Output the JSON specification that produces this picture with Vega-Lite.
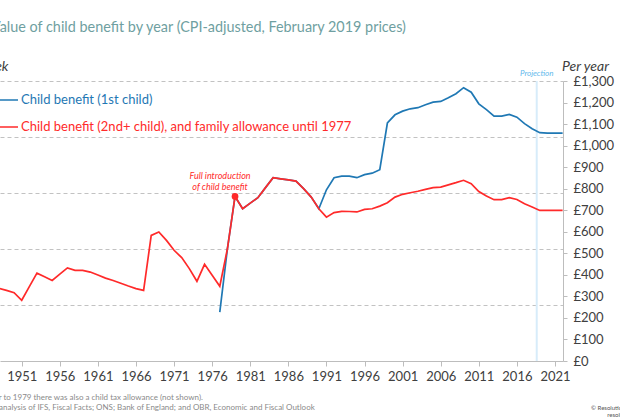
{
  "$schema": "https://vega.github.io/schema/vega-lite/v6.json",
  "width": 563,
  "height": 280,
  "autosize": {"type": "none"},
  "padding": {"left": 0, "top": 81, "right": 57, "bottom": 59},
  "background": "white",
  "config": {
    "font": "Lato",
    "view": {"stroke": null},
    "axis": {"labelFont": "Lato", "titleFont": "Lato"},
    "legend": {"labelFont": "Lato"}
  },
  "title": {
    "text": "Value of child benefit by year (CPI-adjusted, February 2019 prices)",
    "anchor": "start",
    "frame": "group",
    "dx": -9,
    "offset": 24,
    "fontSize": 14.4,
    "fontWeight": "normal",
    "color": "#6f9fa1",
    "font": "Lato"
  },
  "datasets": {
    "benefit": [
      {"year": 1946, "series": "Child benefit (2nd+ child), and family allowance until 1977", "value": 372},
      {"year": 1947, "series": "Child benefit (2nd+ child), and family allowance until 1977", "value": 352},
      {"year": 1948, "series": "Child benefit (2nd+ child), and family allowance until 1977", "value": 338},
      {"year": 1949, "series": "Child benefit (2nd+ child), and family allowance until 1977", "value": 328},
      {"year": 1950, "series": "Child benefit (2nd+ child), and family allowance until 1977", "value": 317},
      {"year": 1951, "series": "Child benefit (2nd+ child), and family allowance until 1977", "value": 282},
      {"year": 1952, "series": "Child benefit (2nd+ child), and family allowance until 1977", "value": 345},
      {"year": 1953, "series": "Child benefit (2nd+ child), and family allowance until 1977", "value": 408},
      {"year": 1954, "series": "Child benefit (2nd+ child), and family allowance until 1977", "value": 391},
      {"year": 1955, "series": "Child benefit (2nd+ child), and family allowance until 1977", "value": 374},
      {"year": 1956, "series": "Child benefit (2nd+ child), and family allowance until 1977", "value": 403},
      {"year": 1957, "series": "Child benefit (2nd+ child), and family allowance until 1977", "value": 432},
      {"year": 1958, "series": "Child benefit (2nd+ child), and family allowance until 1977", "value": 421},
      {"year": 1959, "series": "Child benefit (2nd+ child), and family allowance until 1977", "value": 421},
      {"year": 1960, "series": "Child benefit (2nd+ child), and family allowance until 1977", "value": 413},
      {"year": 1961, "series": "Child benefit (2nd+ child), and family allowance until 1977", "value": 399},
      {"year": 1962, "series": "Child benefit (2nd+ child), and family allowance until 1977", "value": 385},
      {"year": 1963, "series": "Child benefit (2nd+ child), and family allowance until 1977", "value": 374},
      {"year": 1964, "series": "Child benefit (2nd+ child), and family allowance until 1977", "value": 361},
      {"year": 1965, "series": "Child benefit (2nd+ child), and family allowance until 1977", "value": 348},
      {"year": 1966, "series": "Child benefit (2nd+ child), and family allowance until 1977", "value": 336},
      {"year": 1967, "series": "Child benefit (2nd+ child), and family allowance until 1977", "value": 328},
      {"year": 1968, "series": "Child benefit (2nd+ child), and family allowance until 1977", "value": 583},
      {"year": 1969, "series": "Child benefit (2nd+ child), and family allowance until 1977", "value": 599},
      {"year": 1970, "series": "Child benefit (2nd+ child), and family allowance until 1977", "value": 560},
      {"year": 1971, "series": "Child benefit (2nd+ child), and family allowance until 1977", "value": 514},
      {"year": 1972, "series": "Child benefit (2nd+ child), and family allowance until 1977", "value": 480},
      {"year": 1973, "series": "Child benefit (2nd+ child), and family allowance until 1977", "value": 429},
      {"year": 1974, "series": "Child benefit (2nd+ child), and family allowance until 1977", "value": 370},
      {"year": 1975, "series": "Child benefit (2nd+ child), and family allowance until 1977", "value": 449},
      {"year": 1976, "series": "Child benefit (2nd+ child), and family allowance until 1977", "value": 398},
      {"year": 1977, "series": "Child benefit (2nd+ child), and family allowance until 1977", "value": 347},
      {"year": 1978, "series": "Child benefit (2nd+ child), and family allowance until 1977", "value": 521},
      {"year": 1979, "series": "Child benefit (2nd+ child), and family allowance until 1977", "value": 764},
      {"year": 1980, "series": "Child benefit (2nd+ child), and family allowance until 1977", "value": 707},
      {"year": 1981, "series": "Child benefit (2nd+ child), and family allowance until 1977", "value": 733},
      {"year": 1982, "series": "Child benefit (2nd+ child), and family allowance until 1977", "value": 758},
      {"year": 1983, "series": "Child benefit (2nd+ child), and family allowance until 1977", "value": 805},
      {"year": 1984, "series": "Child benefit (2nd+ child), and family allowance until 1977", "value": 851},
      {"year": 1985, "series": "Child benefit (2nd+ child), and family allowance until 1977", "value": 846},
      {"year": 1986, "series": "Child benefit (2nd+ child), and family allowance until 1977", "value": 841},
      {"year": 1987, "series": "Child benefit (2nd+ child), and family allowance until 1977", "value": 835},
      {"year": 1988, "series": "Child benefit (2nd+ child), and family allowance until 1977", "value": 800},
      {"year": 1989, "series": "Child benefit (2nd+ child), and family allowance until 1977", "value": 761},
      {"year": 1990, "series": "Child benefit (2nd+ child), and family allowance until 1977", "value": 707},
      {"year": 1991, "series": "Child benefit (2nd+ child), and family allowance until 1977", "value": 668},
      {"year": 1992, "series": "Child benefit (2nd+ child), and family allowance until 1977", "value": 689},
      {"year": 1993, "series": "Child benefit (2nd+ child), and family allowance until 1977", "value": 695},
      {"year": 1994, "series": "Child benefit (2nd+ child), and family allowance until 1977", "value": 694},
      {"year": 1995, "series": "Child benefit (2nd+ child), and family allowance until 1977", "value": 692},
      {"year": 1996, "series": "Child benefit (2nd+ child), and family allowance until 1977", "value": 704},
      {"year": 1997, "series": "Child benefit (2nd+ child), and family allowance until 1977", "value": 707},
      {"year": 1998, "series": "Child benefit (2nd+ child), and family allowance until 1977", "value": 719},
      {"year": 1999, "series": "Child benefit (2nd+ child), and family allowance until 1977", "value": 735},
      {"year": 2000, "series": "Child benefit (2nd+ child), and family allowance until 1977", "value": 761},
      {"year": 2001, "series": "Child benefit (2nd+ child), and family allowance until 1977", "value": 774},
      {"year": 2002, "series": "Child benefit (2nd+ child), and family allowance until 1977", "value": 781},
      {"year": 2003, "series": "Child benefit (2nd+ child), and family allowance until 1977", "value": 788},
      {"year": 2004, "series": "Child benefit (2nd+ child), and family allowance until 1977", "value": 797},
      {"year": 2005, "series": "Child benefit (2nd+ child), and family allowance until 1977", "value": 805},
      {"year": 2006, "series": "Child benefit (2nd+ child), and family allowance until 1977", "value": 807},
      {"year": 2007, "series": "Child benefit (2nd+ child), and family allowance until 1977", "value": 818},
      {"year": 2008, "series": "Child benefit (2nd+ child), and family allowance until 1977", "value": 828},
      {"year": 2009, "series": "Child benefit (2nd+ child), and family allowance until 1977", "value": 839},
      {"year": 2010, "series": "Child benefit (2nd+ child), and family allowance until 1977", "value": 823},
      {"year": 2011, "series": "Child benefit (2nd+ child), and family allowance until 1977", "value": 787},
      {"year": 2012, "series": "Child benefit (2nd+ child), and family allowance until 1977", "value": 766},
      {"year": 2013, "series": "Child benefit (2nd+ child), and family allowance until 1977", "value": 749},
      {"year": 2014, "series": "Child benefit (2nd+ child), and family allowance until 1977", "value": 749},
      {"year": 2015, "series": "Child benefit (2nd+ child), and family allowance until 1977", "value": 758},
      {"year": 2016, "series": "Child benefit (2nd+ child), and family allowance until 1977", "value": 750},
      {"year": 2017, "series": "Child benefit (2nd+ child), and family allowance until 1977", "value": 730},
      {"year": 2018, "series": "Child benefit (2nd+ child), and family allowance until 1977", "value": 715},
      {"year": 2019, "series": "Child benefit (2nd+ child), and family allowance until 1977", "value": 699},
      {"year": 2020, "series": "Child benefit (2nd+ child), and family allowance until 1977", "value": 699},
      {"year": 2021, "series": "Child benefit (2nd+ child), and family allowance until 1977", "value": 699},
      {"year": 2022, "series": "Child benefit (2nd+ child), and family allowance until 1977", "value": 699},
      {"year": 1977, "series": "Child benefit (1st child)", "value": 227},
      {"year": 1978, "series": "Child benefit (1st child)", "value": 521},
      {"year": 1979, "series": "Child benefit (1st child)", "value": 764},
      {"year": 1980, "series": "Child benefit (1st child)", "value": 707},
      {"year": 1981, "series": "Child benefit (1st child)", "value": 733},
      {"year": 1982, "series": "Child benefit (1st child)", "value": 758},
      {"year": 1983, "series": "Child benefit (1st child)", "value": 805},
      {"year": 1984, "series": "Child benefit (1st child)", "value": 851},
      {"year": 1985, "series": "Child benefit (1st child)", "value": 846},
      {"year": 1986, "series": "Child benefit (1st child)", "value": 841},
      {"year": 1987, "series": "Child benefit (1st child)", "value": 835},
      {"year": 1988, "series": "Child benefit (1st child)", "value": 800},
      {"year": 1989, "series": "Child benefit (1st child)", "value": 761},
      {"year": 1990, "series": "Child benefit (1st child)", "value": 707},
      {"year": 1991, "series": "Child benefit (1st child)", "value": 795},
      {"year": 1992, "series": "Child benefit (1st child)", "value": 851},
      {"year": 1993, "series": "Child benefit (1st child)", "value": 858},
      {"year": 1994, "series": "Child benefit (1st child)", "value": 858},
      {"year": 1995, "series": "Child benefit (1st child)", "value": 851},
      {"year": 1996, "series": "Child benefit (1st child)", "value": 865},
      {"year": 1997, "series": "Child benefit (1st child)", "value": 872},
      {"year": 1998, "series": "Child benefit (1st child)", "value": 888},
      {"year": 1999, "series": "Child benefit (1st child)", "value": 1105},
      {"year": 2000, "series": "Child benefit (1st child)", "value": 1143},
      {"year": 2001, "series": "Child benefit (1st child)", "value": 1160},
      {"year": 2002, "series": "Child benefit (1st child)", "value": 1171},
      {"year": 2003, "series": "Child benefit (1st child)", "value": 1176},
      {"year": 2004, "series": "Child benefit (1st child)", "value": 1190},
      {"year": 2005, "series": "Child benefit (1st child)", "value": 1202},
      {"year": 2006, "series": "Child benefit (1st child)", "value": 1205},
      {"year": 2007, "series": "Child benefit (1st child)", "value": 1222},
      {"year": 2008, "series": "Child benefit (1st child)", "value": 1241},
      {"year": 2009, "series": "Child benefit (1st child)", "value": 1269},
      {"year": 2010, "series": "Child benefit (1st child)", "value": 1248},
      {"year": 2011, "series": "Child benefit (1st child)", "value": 1194},
      {"year": 2012, "series": "Child benefit (1st child)", "value": 1167},
      {"year": 2013, "series": "Child benefit (1st child)", "value": 1137},
      {"year": 2014, "series": "Child benefit (1st child)", "value": 1137},
      {"year": 2015, "series": "Child benefit (1st child)", "value": 1145},
      {"year": 2016, "series": "Child benefit (1st child)", "value": 1132},
      {"year": 2017, "series": "Child benefit (1st child)", "value": 1102},
      {"year": 2018, "series": "Child benefit (1st child)", "value": 1078},
      {"year": 2019, "series": "Child benefit (1st child)", "value": 1060},
      {"year": 2020, "series": "Child benefit (1st child)", "value": 1058},
      {"year": 2021, "series": "Child benefit (1st child)", "value": 1058},
      {"year": 2022, "series": "Child benefit (1st child)", "value": 1058}
    ]
  },
  "data": {"name": "benefit"},
  "layer": [
    {
      "data": {"values": [{"year": 2018.6, "label": "Projection"}]},
      "mark": {"type": "rule", "color": "#d7ecfa", "strokeWidth": 2},
      "encoding": {
        "x": {
          "field": "year",
          "type": "quantitative",
          "scale": {"domain": [1948.15, 2022.05], "nice": false, "zero": false},
          "axis": {
            "orient": "bottom",
            "values": [1951, 1956, 1961, 1966, 1971, 1976, 1981, 1986, 1991, 1996, 2001, 2006, 2011, 2016, 2021],
            "format": "d",
            "grid": false,
            "labelFontSize": 13,
            "labelColor": "#404040",
            "labelPadding": 4,
            "labelFlush": false,
            "labelOverlap": false,
            "tickSize": 5,
            "tickColor": "#bdbdbd",
            "domainColor": "#bdbdbd",
            "title": [
              "Notes: Prior to 1979 there was also a child tax allowance (not shown).",
              "Source: RF analysis of IFS, Fiscal Facts; ONS; Bank of England; and OBR, Economic and Fiscal Outlook"
            ],
            "titleFontSize": 8,
            "titleFontWeight": "normal",
            "titleColor": "#8a8a8a",
            "titleAlign": "left",
            "titleBaseline": "top",
            "titleAngle": 0,
            "titleX": -41,
            "titleY": 32,
            "titleLineHeight": 10
          }
        }
      }
    },
    {
      "data": {"values": [{"year": 2018.6, "label": "Projection", "value": 1300}]},
      "mark": {"type": "text", "fontSize": 8, "fontStyle": "italic", "color": "#62b9ec", "baseline": "bottom", "dy": -3},
      "encoding": {
        "x": {"field": "year", "type": "quantitative", "axis": null},
        "y": {"field": "value", "type": "quantitative", "axis": null},
        "text": {"field": "label"}
      }
    },
    {
      "transform": [{"filter": "datum.series === 'Child benefit (1st child)'"}],
      "mark": {"type": "line", "strokeWidth": 1.7, "clip": true},
      "encoding": {
        "x": {
          "field": "year",
          "type": "quantitative",
          "axis": {
            "orient": "top",
            "labels": false,
            "ticks": false,
            "domain": false,
            "grid": false,
            "title": ["© Resolution Foundation 2019", "resolutionfoundation.org"],
            "titleFontSize": 6,
            "titleFontWeight": "normal",
            "titleColor": "#555555",
            "titleAlign": "right",
            "titleBaseline": "middle",
            "titleX": 672,
            "titleY": 326,
            "titleLineHeight": 7
          }
        },
        "y": {
          "field": "value",
          "type": "quantitative",
          "scale": {"domain": [0, 1300], "nice": false, "zero": true},
          "axis": {
            "orient": "right",
            "values": [0, 100, 200, 300, 400, 500, 600, 700, 800, 900, 1000, 1100, 1200, 1300],
            "labelExpr": "'£' + format(datum.value, ',')",
            "grid": false,
            "labelFontSize": 13,
            "labelColor": "#404040",
            "labelPadding": 6,
            "labelFlush": false,
            "labelOverlap": false,
            "tickSize": 4,
            "tickColor": "#bdbdbd",
            "domainColor": "#bdbdbd",
            "title": "Per year",
            "titleAngle": 0,
            "titleAlign": "center",
            "titleBaseline": "middle",
            "titleX": 22,
            "titleY": -15,
            "titleFontSize": 14,
            "titleFontStyle": "italic",
            "titleFontWeight": "normal",
            "titleColor": "#404040"
          }
        },
        "color": {
          "field": "series",
          "type": "nominal",
          "scale": {
            "domain": ["Child benefit (1st child)", "Child benefit (2nd+ child), and family allowance until 1977"],
            "range": ["#1f78b4", "#ff2a2a"]
          },
          "legend": {
            "orient": "none",
            "legendX": -13,
            "legendY": 3,
            "direction": "vertical",
            "title": null,
            "padding": 0,
            "symbolType": "stroke",
            "symbolSize": 900,
            "symbolStrokeWidth": 1.5,
            "labelFontSize": 13,
            "labelOffset": 2,
            "labelLimit": 0,
            "rowPadding": 4,
            "encode": {"labels": {"update": {"fill": {"scale": "color", "field": "value"}}}}
          }
        }
      }
    },
    {
      "transform": [{"filter": "datum.series !== 'Child benefit (1st child)'"}],
      "mark": {"type": "line", "strokeWidth": 1.7, "clip": true},
      "encoding": {
        "x": {"field": "year", "type": "quantitative", "axis": null},
        "y": {
          "field": "value",
          "type": "quantitative",
          "axis": {
            "orient": "left",
            "values": [260, 520, 780, 1040, 1300],
            "grid": true,
            "gridDash": [4, 3],
            "gridColor": "#c2c2c2",
            "gridWidth": 1,
            "labels": false,
            "ticks": false,
            "domain": false,
            "title": "£ per week",
            "titleAngle": 0,
            "titleAlign": "right",
            "titleBaseline": "middle",
            "titleX": 8,
            "titleY": -15,
            "titleFontSize": 14,
            "titleFontStyle": "italic",
            "titleFontWeight": "normal",
            "titleColor": "#404040"
          }
        },
        "color": {
          "field": "series",
          "type": "nominal",
          "legend": {
            "orient": "none",
            "legendX": -13,
            "legendY": 3,
            "direction": "vertical",
            "title": null,
            "padding": 0,
            "symbolType": "stroke",
            "symbolSize": 900,
            "symbolStrokeWidth": 1.5,
            "labelFontSize": 13,
            "labelOffset": 2,
            "labelLimit": 0,
            "rowPadding": 4,
            "encode": {"labels": {"update": {"fill": {"scale": "color", "field": "value"}}}}
          }
        }
      }
    },
    {
      "transform": [{"filter": "datum.year === 1979 && datum.series !== 'Child benefit (1st child)'"}],
      "mark": {"type": "circle", "size": 45, "color": "#ff2a2a", "opacity": 1},
      "encoding": {
        "x": {"field": "year", "type": "quantitative", "axis": null},
        "y": {"field": "value", "type": "quantitative", "axis": null}
      }
    },
    {
      "transform": [{"filter": "datum.year === 1979 && datum.series !== 'Child benefit (1st child)'"}],
      "mark": {
        "type": "text",
        "text": ["Full introduction", "of child benefit"],
        "fontSize": 9,
        "fontStyle": "italic",
        "color": "#ff2a2a",
        "align": "center",
        "baseline": "bottom",
        "lineHeight": 11,
        "dx": -15,
        "dy": -15
      },
      "encoding": {
        "x": {"field": "year", "type": "quantitative", "axis": null},
        "y": {"field": "value", "type": "quantitative", "axis": null}
      }
    }
  ],
  "resolve": {"axis": {"x": "independent", "y": "independent"}}
}
